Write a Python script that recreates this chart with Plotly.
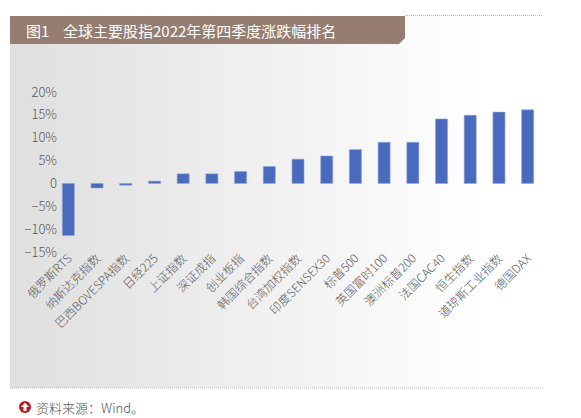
import plotly.graph_objects as go

# 数据：全球主要股指2022年第四季度涨跌幅（%）
indices = ['俄罗斯RTS', '纳斯达克指数', '巴西BOVESPA指数', '日经225', '上证指数', '深证成指',
           '创业板指', '韩国综合指数', '台湾加权指数', '印度SENSEX30', '标普500', '英国富时100',
           '澳洲标普200', '法国CAC40', '恒生指数', '道琼斯工业指数', '德国DAX']
change_pct = [-11.4, -1.0, -0.4, 0.5, 2.1, 2.1, 2.6, 3.7, 5.3, 6.0, 7.4, 9.0, 9.0, 14.1, 14.9, 15.6, 16.1]

tick_vals = [20, 15, 10, 5, 0, -5, -10, -15]
tick_text = ['20%', '15%', '10%', '5%', '0', '−5%', '−10%', '−15%']

W, H = 581, 418
FONT = 'Noto Sans CJK SC'


def fx(px):
    return px / W


def fy(py):
    return 1 - py / H


fig = go.Figure()
fig.add_trace(go.Bar(x=indices, y=change_pct, marker=dict(color='#4a6bbd', line=dict(color='#8fa3d6', width=0.6))))

shapes = []
# 背景渐变（左灰右白）
x0, x1 = 10, 543
step = 4
x = x0
while x < x1:
    t = min(1.0, (x - x0) / (480 - x0))
    c = int(round(223 + (255 - 223) * t))
    shapes.append(dict(type='rect', xref='paper', yref='paper', x0=fx(x), x1=fx(min(x + step + 0.5, x1)),
                       y0=fy(388), y1=fy(16), fillcolor='rgb(%d,%d,%d)' % (c, c, c),
                       line=dict(width=0), layer='below'))
    x += step

# 标题栏
shapes.append(dict(type='path', xref='paper', yref='paper', layer='below',
                   path='M %f %f L %f %f L %f %f L %f %f L %f %f Z' % (
                       fx(10), fy(16), fx(405), fy(16), fx(405), fy(38), fx(399), fy(44), fx(10), fy(44)),
                   fillcolor='#957e71', line=dict(width=0)))
# 虚线
shapes.append(dict(type='line', xref='paper', yref='paper', x0=fx(405), x1=fx(543), y0=fy(15.5), y1=fy(15.5),
                   line=dict(color='#a8a8a8', width=0.8, dash='1px,1px')))
shapes.append(dict(type='line', xref='paper', yref='paper', x0=fx(10), x1=fx(543), y0=fy(388), y1=fy(388),
                   line=dict(color='#a8a8a8', width=0.8, dash='1px,1px')))
# 资料来源图标
shapes.append(dict(type='circle', xref='paper', yref='paper', x0=fx(19), x1=fx(31), y0=fy(401), y1=fy(413),
                   fillcolor='#c4161c', line=dict(width=0)))
shapes.append(dict(type='path', xref='paper', yref='paper',
                   path='M %f %f L %f %f L %f %f L %f %f L %f %f L %f %f L %f %f Z' % (
                       fx(25), fy(402.5), fx(29), fy(407), fx(26.5), fy(407), fx(26.5), fy(411),
                       fx(23.5), fy(411), fx(23.5), fy(407), fx(21), fy(407)),
                   fillcolor='white', line=dict(width=0)))

annotations = [
    dict(text='图1', x=fx(24), y=fy(30), xref='paper', yref='paper', xanchor='left', yanchor='middle',
         showarrow=False, font=dict(family=FONT, size=15, color='white')),
    dict(text='全球主要股指2022年第四季度涨跌幅排名', x=fx(61), y=fy(30), xref='paper', yref='paper',
         xanchor='left', yanchor='middle', showarrow=False, font=dict(family=FONT, size=15, color='white')),
    dict(text='资料来源：Wind。', x=fx(34), y=fy(407), xref='paper', yref='paper', xanchor='left',
         yanchor='middle', showarrow=False, font=dict(family=FONT, size=13, color='#555555', weight=300)),
]

fig.update_layout(
    template='none',
    width=W, height=H,
    margin=dict(l=0, r=0, t=0, b=0),
    paper_bgcolor='white',
    plot_bgcolor='rgba(0,0,0,0)',
    showlegend=False,
    bargap=0.58,
    shapes=shapes,
    annotations=annotations,
    font=dict(family=FONT, color='#595959'),
    xaxis=dict(domain=[fx(54), fx(542)], tickangle=-45, showgrid=False, showline=False, zeroline=False,
               ticks='', automargin=False, tickfont=dict(size=12, color='#595959', weight=300),
               ticklabelstandoff=-4),
    yaxis=dict(domain=[fy(252), fy(92)], range=[-15, 20], tickvals=tick_vals, ticktext=tick_text,
               showgrid=False, showline=False, zeroline=False, ticks='', automargin=False,
               tickfont=dict(size=13, color='#595959', weight=300), ticklabelstandoff=-4),
)

# 去掉页面默认边距，让图从左上角开始
fig.write_html('out.html', config={'displayModeBar': False},
               post_script="document.body.style.margin='0';")
